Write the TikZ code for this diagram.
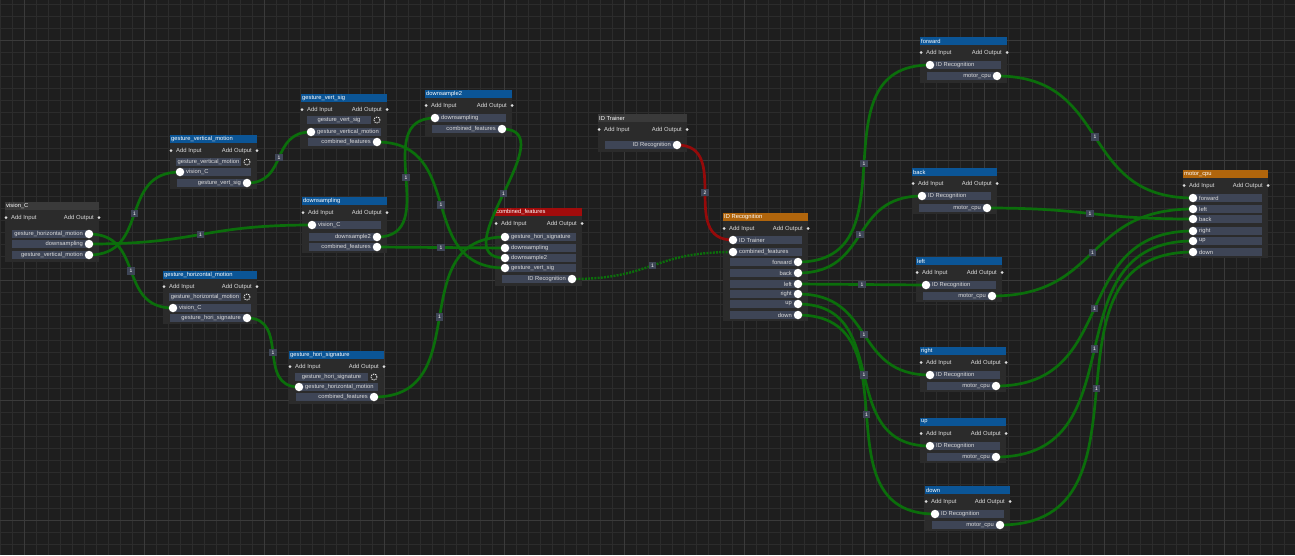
\documentclass[tikz,border=0pt]{standalone}
\usepackage{fontspec}
\setmainfont{Liberation Sans}
\usetikzlibrary{calc}
\definecolor{bgc}{HTML}{1E1E1E}
\definecolor{minorc}{HTML}{2C2C2C}
\definecolor{majorc}{HTML}{3A3A3A}
\definecolor{bodyc}{HTML}{2B2B2B}
\definecolor{barc}{HTML}{3E4556}
\definecolor{tblue}{HTML}{0B5596}
\definecolor{tgray}{HTML}{3A3A3A}
\definecolor{tred}{HTML}{A10C0C}
\definecolor{torange}{HTML}{B0650C}
\definecolor{wirec}{HTML}{0B6E0B}
\definecolor{wirered}{HTML}{950A0A}
\definecolor{txtc}{HTML}{DCDCDC}
\pgfdeclarelayer{bglayer}\pgfdeclarelayer{nodelayer}\pgfdeclarelayer{wirelayer}
\pgfsetlayers{bglayer,nodelayer,wirelayer,main}
\tikzset{
 ttl/.style={font=\fontsize{5.8}{6}\selectfont, text=white, inner sep=0pt},
 addtxt/.style={font=\fontsize{5.9}{6}\selectfont, text=txtc, inner sep=0pt},
 rowtxt/.style={font=\fontsize{5.8}{6}\selectfont, text=txtc, inner sep=0pt},
 adddot/.style={circle, fill=txtc, minimum size=3pt, inner sep=0pt},
 port/.style={circle, fill=white, minimum size=8.5pt, inner sep=0pt},
 refport/.style={circle, draw=white, line width=0.8pt, dash pattern=on 1.3pt off 0.9pt, minimum size=6pt, inner sep=0pt},
 wire/.style={draw=wirec, line width=2.7pt},
 redwire/.style={draw=wirered, line width=2.7pt},
 dotwire/.style={draw=wirec, line width=2.4pt, dash pattern=on 2pt off 1.2pt},
 elabel/.style={fill=barc, text=white, font=\fontsize{5}{5}\selectfont, minimum width=7.5pt, minimum height=7.5pt, inner sep=0pt},
}
% id, L, R, top, bottom, colour, title
\newcommand\gnode[7]{%
 \begin{pgfonlayer}{nodelayer}
 \fill[bodyc] (#2,#4) rectangle (#3,#5);
 \fill[#6] (#2,#4) rectangle (#3,#4+8);
 \node[ttl,anchor=west] (#1-title) at (#2+1,#4+4) {#7};
 \node[adddot] (#1-adi) at (#2+1,#4+15.5) {};
 \node[addtxt,anchor=west] (#1-adit) at (#2+6,#4+15.5) {Add Input};
 \node[adddot] (#1-ado) at (#3,#4+15.5) {};
 \node[addtxt,anchor=east] (#1-adot) at (#3-5,#4+15.5) {Add Output};
 \end{pgfonlayer}}
% id, L, R, y, label
\newcommand\inrow[5]{%
 \begin{pgfonlayer}{nodelayer}
 \fill[barc] (#2+12,#4-4) rectangle (#3-6,#4+4);
 \node[rowtxt,anchor=west] (#1-t) at (#2+16,#4) {#5};
 \end{pgfonlayer}
 \node[port] (#1) at (#2+10,#4) {};}
\newcommand\outrow[5]{%
 \begin{pgfonlayer}{nodelayer}
 \fill[barc] (#2+7,#4-4) rectangle (#3-12,#4+4);
 \node[rowtxt,anchor=east] (#1-t) at (#3-16,#4) {#5};
 \end{pgfonlayer}
 \node[port] (#1) at (#3-10,#4) {};}
\newcommand\refrow[5]{%
 \begin{pgfonlayer}{nodelayer}
 \fill[barc] (#2+6,#4-4) rectangle (#3-16,#4+4);
 \node[rowtxt] (#1-t) at ({(#2+#3-10)/2},#4) {#5};
 \end{pgfonlayer}
 \node[refport] (#1) at (#3-10,#4) {};}
% style, from, to, label
\newcommand\link[4]{%
 \begin{pgfonlayer}{wirelayer}
 \draw[#1] let \p1=(#2.center), \p2=(#3.center), \n1={0.5*veclen(\x2-\x1,\y2-\y1)} in
   (\p1) .. controls ($(\p1)+(\n1,0pt)$) and ($(\p2)-(\n1,0pt)$) .. (\p2);
 \end{pgfonlayer}
 \node[elabel] (#2-#3-l) at ($(#2.center)!0.5!(#3.center)$) {#4};}

\begin{document}
\begin{tikzpicture}[x=1pt,y=-1pt]
\useasboundingbox (0,0) rectangle (1295,555);
\begin{pgfonlayer}{bglayer}
\fill[bgc] (0,0) rectangle (1295,555);
\foreach \x in {0,12,...,1295} \draw[minorc,line width=0.5pt] (\x,0) -- (\x,555);
\foreach \y in {4,16,...,555} \draw[minorc,line width=0.5pt] (0,\y) -- (1295,\y);
\foreach \x in {24,144,...,1295} \draw[majorc,line width=0.7pt] (\x,0) -- (\x,555);
\foreach \y in {40,160,...,555} \draw[majorc,line width=0.7pt] (0,\y) -- (1295,\y);
\end{pgfonlayer}

% vision_C
\gnode{vc}{5}{99}{202}{262}{tgray}{vision\_C}
\outrow{vc-o1}{5}{99}{234}{gesture\_horizontal\_motion}
\outrow{vc-o2}{5}{99}{244}{downsampling}
\outrow{vc-o3}{5}{99}{255}{gesture\_vertical\_motion}

% gesture_vertical_motion
\gnode{gvm}{170}{257}{135}{189}{tblue}{gesture\_vertical\_motion}
\refrow{gvm-r}{170}{257}{162}{gesture\_vertical\_motion}
\inrow{gvm-in}{170}{257}{172}{vision\_C}
\outrow{gvm-out}{170}{257}{183}{gesture\_vert\_sig}

% gesture_horizontal_motion
\gnode{ghm}{163}{257}{271}{324}{tblue}{gesture\_horizontal\_motion}
\refrow{ghm-r}{163}{257}{297}{gesture\_horizontal\_motion}
\inrow{ghm-in}{163}{257}{308}{vision\_C}
\outrow{ghm-out}{163}{257}{318}{gesture\_hori\_signature}

% gesture_vert_sig
\gnode{gvs}{301}{387}{94}{148}{tblue}{gesture\_vert\_sig}
\refrow{gvs-r}{301}{387}{120}{gesture\_vert\_sig}
\inrow{gvs-in}{301}{387}{132}{gesture\_vertical\_motion}
\outrow{gvs-out}{301}{387}{142}{combined\_features}

% downsampling
\gnode{ds}{302}{387}{197}{253}{tblue}{downsampling}
\inrow{ds-in}{302}{387}{225}{vision\_C}
\outrow{ds-o1}{302}{387}{237}{downsample2}
\outrow{ds-o2}{302}{387}{247}{combined\_features}

% downsample2
\gnode{ds2}{425}{512}{90}{136}{tblue}{downsample2}
\inrow{ds2-in}{425}{512}{118}{downsampling}
\outrow{ds2-out}{425}{512}{129}{combined\_features}

% gesture_hori_signature
\gnode{ghs}{289}{384}{351}{404}{tblue}{gesture\_hori\_signature}
\refrow{ghs-r}{289}{384}{377}{gesture\_hori\_signature}
\inrow{ghs-in}{289}{384}{387}{gesture\_horizontal\_motion}
\outrow{ghs-out}{289}{384}{397}{combined\_features}

% combined_features
\gnode{cf}{495}{582}{208}{286}{tred}{combined\_features}
\inrow{cf-i1}{495}{582}{237}{gesture\_hori\_signature}
\inrow{cf-i2}{495}{582}{248}{downsampling}
\inrow{cf-i3}{495}{582}{258}{downsample2}
\inrow{cf-i4}{495}{582}{268}{gesture\_vert\_sig}
\outrow{cf-out}{495}{582}{279}{ID Recognition}

% ID Trainer
\gnode{idt}{598}{687}{114}{152}{tgray}{ID Trainer}
\outrow{idt-out}{598}{687}{145}{ID Recognition}

% ID Recognition
\gnode{idr}{723}{808}{213}{321}{torange}{ID Recognition}
\inrow{idr-i1}{723}{808}{240}{ID Trainer}
\inrow{idr-i2}{723}{808}{252}{combined\_features}
\outrow{idr-o1}{723}{808}{262}{forward}
\outrow{idr-o2}{723}{808}{273}{back}
\outrow{idr-o3}{723}{808}{284}{left}
\outrow{idr-o4}{723}{808}{294}{right}
\outrow{idr-o5}{723}{808}{304}{up}
\outrow{idr-o6}{723}{808}{315}{down}

% targets
\gnode{fwd}{920}{1007}{37}{83}{tblue}{forward}
\inrow{fwd-in}{920}{1007}{65}{ID Recognition}
\outrow{fwd-out}{920}{1007}{76}{motor\_cpu}

\gnode{bck}{912}{997}{168}{214}{tblue}{back}
\inrow{bck-in}{912}{997}{196}{ID Recognition}
\outrow{bck-out}{912}{997}{208}{motor\_cpu}

\gnode{lft}{916}{1002}{257}{302}{tblue}{left}
\inrow{lft-in}{916}{1002}{285}{ID Recognition}
\outrow{lft-out}{916}{1002}{296}{motor\_cpu}

\gnode{rgt}{920}{1006}{347}{392}{tblue}{right}
\inrow{rgt-in}{920}{1006}{375}{ID Recognition}
\outrow{rgt-out}{920}{1006}{386}{motor\_cpu}

\gnode{upn}{920}{1006}{418}{463}{tblue}{up}
\inrow{upn-in}{920}{1006}{446}{ID Recognition}
\outrow{upn-out}{920}{1006}{457}{motor\_cpu}

\gnode{dwn}{925}{1010}{486}{531}{tblue}{down}
\inrow{dwn-in}{925}{1010}{514}{ID Recognition}
\outrow{dwn-out}{925}{1010}{525}{motor\_cpu}

% motor_cpu
\gnode{mc}{1183}{1268}{170}{258}{torange}{motor\_cpu}
\inrow{mc-i1}{1183}{1268}{198}{forward}
\inrow{mc-i2}{1183}{1268}{209}{left}
\inrow{mc-i3}{1183}{1268}{219}{back}
\inrow{mc-i4}{1183}{1268}{231}{right}
\inrow{mc-i5}{1183}{1268}{241}{up}
\inrow{mc-i6}{1183}{1268}{252}{down}

% connectors
\link{wire}{vc-o1}{ghm-in}{1}
\link{wire}{vc-o2}{ds-in}{1}
\link{wire}{vc-o3}{gvm-in}{1}
\link{wire}{gvm-out}{gvs-in}{1}
\link{wire}{ghm-out}{ghs-in}{1}
\link{wire}{ds-o1}{ds2-in}{1}
\link{wire}{ds-o2}{cf-i2}{1}
\link{wire}{gvs-out}{cf-i4}{1}
\link{wire}{ds2-out}{cf-i3}{1}
\link{wire}{ghs-out}{cf-i1}{1}
\link{dotwire}{cf-out}{idr-i2}{1}
\link{redwire}{idt-out}{idr-i1}{2}
\link{wire}{idr-o1}{fwd-in}{1}
\link{wire}{idr-o2}{bck-in}{1}
\link{wire}{idr-o3}{lft-in}{1}
\link{wire}{idr-o4}{rgt-in}{1}
\link{wire}{idr-o5}{upn-in}{1}
\link{wire}{idr-o6}{dwn-in}{1}
\link{wire}{fwd-out}{mc-i1}{1}
\link{wire}{lft-out}{mc-i2}{1}
\link{wire}{bck-out}{mc-i3}{1}
\link{wire}{rgt-out}{mc-i4}{1}
\link{wire}{upn-out}{mc-i5}{1}
\link{wire}{dwn-out}{mc-i6}{1}
\end{tikzpicture}
\end{document}
